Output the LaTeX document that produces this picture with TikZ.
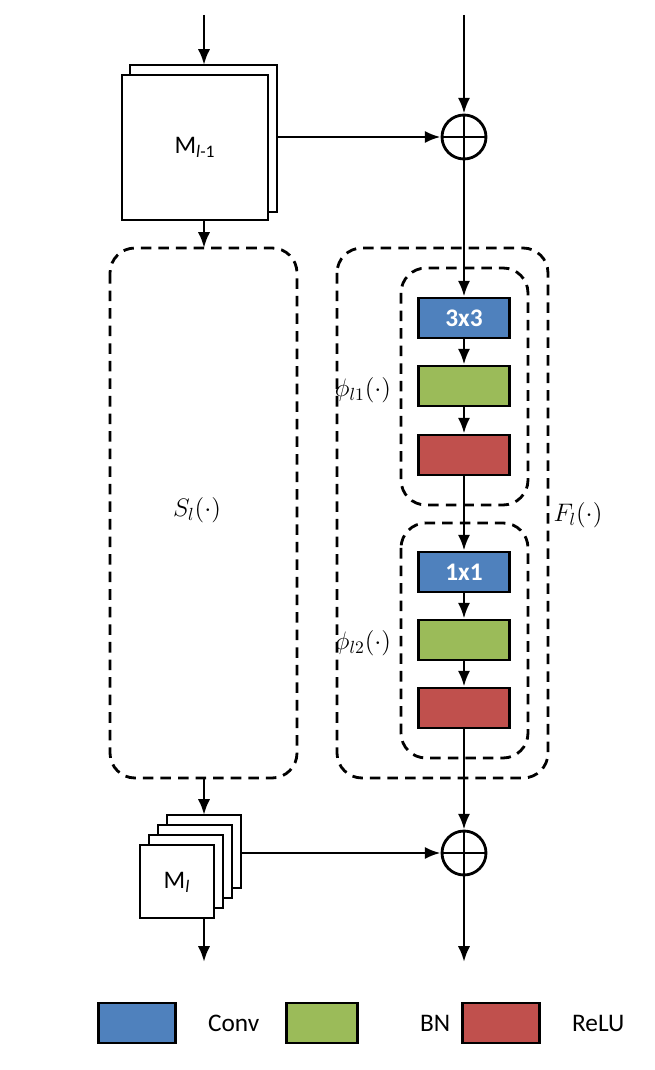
\documentclass[tikz,border=0pt]{standalone}
\usepackage{fontspec}
\setmainfont{Carlito}
\usetikzlibrary{positioning, calc, arrows.meta}
\definecolor{xconv}{HTML}{4F81BD}
\definecolor{xbn}{HTML}{9BBB59}
\definecolor{xrelu}{HTML}{C0504D}
\tikzset{
	arr/.style={line width=1.6pt, -{Latex[length=9pt,width=7pt]}},
	blk/.style={draw, line width=1.6pt, minimum width=1.82cm, minimum height=0.8cm, inner sep=0pt},
	grp/.style={draw, line width=1.6pt, dashed, dash pattern=on 6pt off 4pt, rounded corners=0.5cm},
	sheet/.style={draw, line width=1.6pt, fill=white},
	addop/.style={draw, circle, line width=1.6pt, minimum size=0.88cm, inner sep=0pt},
}
\begin{document}
\begin{tikzpicture}[x=0.02cm, y=-0.02cm, every node/.style={font=\Large}]
		\useasboundingbox (0,0) rectangle (654,1070);
		% input feature maps
		\draw[sheet] (130,65) rectangle (277,212);
		\draw[sheet] (122,75) rectangle (268,220);
		\node (min) at (195,147) {M\textsubscript{\textit{l}-1}};
		\coordinate (intop) at (204,15);
		\coordinate (inbot) at (204,65);
		\coordinate (minr) at (277,137);
		\coordinate (minb) at (204,220);
		% adders
		\node[addop] (add1) at (464,137) {};
		\node[addop] (add2) at (464,853) {};
		\foreach \a in {add1, add2}{
			\draw[line width=1.6pt] (\a.north) -- (\a.south);
			\draw[line width=1.6pt] (\a.west) -- (\a.east);
		}
		\coordinate (rtop) at (464,15);
		\coordinate (rbot) at (464,962);
		% groups
		\draw[grp] (110,248) rectangle (297,778);
		\node at (197,510) {$S_l(\cdot)$};
		\draw[grp] (337,248) rectangle (548,778);
		\node at (578,515) {$F_l(\cdot)$};
		\draw[grp] (401,268) rectangle (528,505);
		\draw[grp] (401,523) rectangle (528,758);
		\node at (363,390) {$\phi_{l1}(\cdot)$};
		\node at (363,643) {$\phi_{l2}(\cdot)$};
		\coordinate (stop) at (204,248);
		\coordinate (sbot) at (204,778);
		% layers
		\node[blk, fill=xconv, text=white, font=\Large\bfseries] (c1) at (464,318) {3x3};
		\node[blk, fill=xbn] (b1) at (464,386) {};
		\node[blk, fill=xrelu] (r1) at (464,455) {};
		\node[blk, fill=xconv, text=white, font=\Large\bfseries] (c2) at (464,572) {1x1};
		\node[blk, fill=xbn] (b2) at (464,640) {};
		\node[blk, fill=xrelu] (r2) at (464,708) {};
		% output feature maps
		\foreach \i in {3,2,1}{
			\draw[sheet] ({140+9*\i},{845-10*\i}) rectangle ({214+9*\i},{918-10*\i});
		}
		\draw[sheet] (140,845) rectangle (214,918);
		\node (mout) at (177,882) {M\textsubscript{\textit{l}}};
		\coordinate (moutt) at (204,815);
		\coordinate (moutr) at (241,853);
		\coordinate (moutb) at (204,918);
		\coordinate (outbot) at (204,962);
		% connectors
		\draw[arr] (intop) -- (inbot);
		\draw[arr] (minr) -- (add1);
		\draw[arr] (rtop) -- (add1);
		\draw[arr] (minb) -- (stop);
		\draw[arr] (add1) -- (c1);
		\draw[arr] (c1) -- (b1);
		\draw[arr] (b1) -- (r1);
		\draw[arr] (r1) -- (c2);
		\draw[arr] (c2) -- (b2);
		\draw[arr] (b2) -- (r2);
		\draw[arr] (r2) -- (add2);
		\draw[arr] (add2) -- (rbot);
		\draw[arr] (sbot) -- (moutt);
		\draw[arr] (moutr) -- (add2);
		\draw[arr] (moutb) -- (outbot);
		% legend
		\node[blk, fill=xconv, minimum width=1.54cm] (lconv) at (137,1023) {};
		\node[right=0.5cm of lconv] {Conv};
		\node[blk, fill=xbn, minimum width=1.42cm] (lbn) at (322,1023) {};
		\node[right=1.1cm of lbn] {BN};
		\node[blk, fill=xrelu, minimum width=1.54cm] (lrelu) at (501,1023) {};
		\node[right=0.5cm of lrelu] {ReLU};
	\end{tikzpicture}
\end{document}
